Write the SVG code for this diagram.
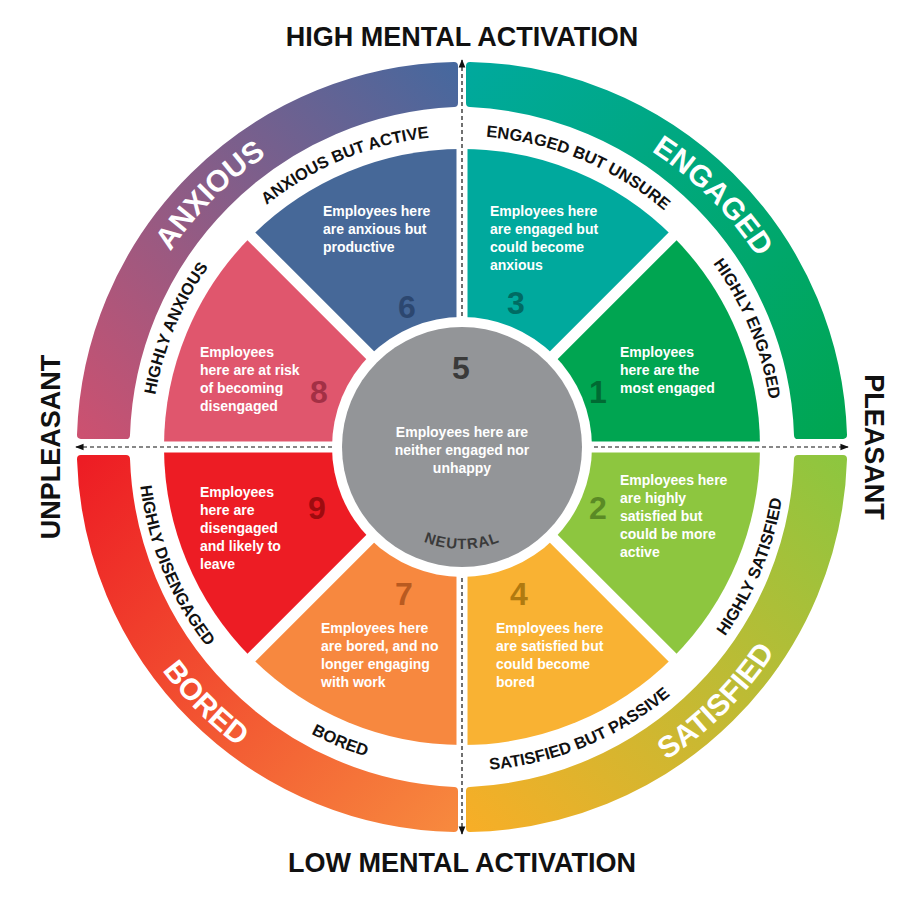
<svg xmlns="http://www.w3.org/2000/svg" width="924" height="902" viewBox="0 0 924 902">
<style>
.ax{font-family:"Liberation Sans",Arial,sans-serif;font-weight:bold;font-size:27px;fill:#111}
.ring{font-family:"Liberation Sans",Arial,sans-serif;font-weight:bold;font-size:30px;fill:#fff}
.lab{font-family:"Liberation Sans",Arial,sans-serif;font-weight:bold;font-size:16.5px;fill:#111}
.txt{font-family:"Liberation Sans",Arial,sans-serif;font-weight:bold;font-size:14px;fill:#fff}
.num{font-family:"Liberation Sans",Arial,sans-serif;font-weight:bold;font-size:32px;text-anchor:middle}
.rs{stroke-width:8;stroke-linejoin:round}
.dash{stroke:#111;stroke-width:1.2;stroke-dasharray:4 3;fill:none}
</style>
<defs>
<linearGradient id="gA" x1="0" y1="1" x2="1" y2="0"><stop offset="0" stop-color="#cc5170"/><stop offset="1" stop-color="#46689e"/></linearGradient>
<linearGradient id="gE" x1="0" y1="0" x2="1" y2="1"><stop offset="0" stop-color="#00a99d"/><stop offset="1" stop-color="#00a651"/></linearGradient>
<linearGradient id="gS" x1="1" y1="0" x2="0" y2="1"><stop offset="0" stop-color="#8dc63f"/><stop offset="1" stop-color="#f7ae27"/></linearGradient>
<linearGradient id="gB" x1="0" y1="0" x2="1" y2="1"><stop offset="0" stop-color="#ed1c24"/><stop offset="1" stop-color="#f7893e"/></linearGradient>
<path id="tR" d="M111,447 A351,351 0 0 1 813,447"/>
<path id="bR" d="M88,447 A374,374 0 0 0 836,447"/>
<path id="tL" d="M151,447 A311,311 0 0 1 773,447"/>
<path id="bL" d="M138,447 A324,324 0 0 0 786,447"/>
<path id="nP" d="M360,447 A102,102 0 0 0 564,447"/>
<marker id="ar" viewBox="0 0 10 10" refX="9" refY="5" markerWidth="7" markerHeight="7" orient="auto-start-reverse"><path d="M0,1 L10,5 L0,9 Z" fill="#111"/></marker>
</defs>
<rect width="924" height="902" fill="#fff"/>
<g id="rings">
<path class="rs" fill="url(#gA)" stroke="url(#gA)" d="M454,66 A381,381 0 0 0 81,435 L126,435 A344,344 0 0 1 454,103 Z"/>
<path class="rs" fill="url(#gE)" stroke="url(#gE)" d="M470,66 A381,381 0 0 1 843,435 L798,435 A344,344 0 0 0 470,103 Z"/>
<path class="rs" fill="url(#gS)" stroke="url(#gS)" d="M843,459 A381,381 0 0 1 470,828 L470,791 A344,344 0 0 0 798,459 Z"/>
<path class="rs" fill="url(#gB)" stroke="url(#gB)" d="M454,828 A381,381 0 0 1 81,459 L126,459 A344,344 0 0 0 454,791 Z"/>
<text class="ring" text-anchor="middle"><textPath href="#tR" startOffset="25%">ANXIOUS</textPath></text>
<text class="ring" text-anchor="middle"><textPath href="#tR" startOffset="75%">ENGAGED</textPath></text>
<text class="ring" text-anchor="middle"><textPath href="#bR" startOffset="25%">BORED</textPath></text>
<text class="ring" text-anchor="middle"><textPath href="#bR" startOffset="75%">SATISFIED</textPath></text>
</g>
<g id="labels">
<text class="lab" text-anchor="middle"><textPath href="#tL" startOffset="12.5%">HIGHLY ANXIOUS</textPath></text>
<text class="lab" text-anchor="middle"><textPath href="#tL" startOffset="37.5%">ANXIOUS BUT ACTIVE</textPath></text>
<text class="lab" text-anchor="middle"><textPath href="#tL" startOffset="62.5%">ENGAGED BUT UNSURE</textPath></text>
<text class="lab" text-anchor="middle"><textPath href="#tL" startOffset="87.5%">HIGHLY ENGAGED</textPath></text>
<text class="lab" text-anchor="middle"><textPath href="#bL" startOffset="12.5%">HIGHLY DISENGAGED</textPath></text>
<text class="lab" text-anchor="middle"><textPath href="#bL" startOffset="37.5%">BORED</textPath></text>
<text class="lab" text-anchor="middle"><textPath href="#bL" startOffset="62.5%">SATISFIED BUT PASSIVE</textPath></text>
<text class="lab" text-anchor="middle"><textPath href="#bL" startOffset="87.5%">HIGHLY SATISFIED</textPath></text>
</g>
<g id="s6"><path d="M462,447 L251.3,236.3 A298,298 0 0 1 462,149 Z" fill="#466898"/></g>
<g id="s3"><path d="M462,447 L462,149 A298,298 0 0 1 672.7,236.3 Z" fill="#00a99d"/></g>
<g id="s1"><path d="M462,447 L672.7,236.3 A298,298 0 0 1 760,447 Z" fill="#00a551"/></g>
<g id="s2"><path d="M462,447 L760,447 A298,298 0 0 1 672.7,657.7 Z" fill="#8dc63f"/></g>
<g id="s4"><path d="M462,447 L672.7,657.7 A298,298 0 0 1 462,745 Z" fill="#f9b233"/></g>
<g id="s7"><path d="M462,447 L462,745 A298,298 0 0 1 251.3,657.7 Z" fill="#f7883f"/></g>
<g id="s9"><path d="M462,447 L251.3,657.7 A298,298 0 0 1 164,447 Z" fill="#ed1c24"/></g>
<g id="s8"><path d="M462,447 L164,447 A298,298 0 0 1 251.3,236.3 Z" fill="#e0566d"/></g>
<g id="dividers" stroke="#fff" stroke-width="11">
<line x1="462" y1="447" x2="462" y2="140"/><line x1="462" y1="447" x2="462" y2="754"/>
<line x1="462" y1="447" x2="155" y2="447"/><line x1="462" y1="447" x2="769" y2="447"/>
<line x1="462" y1="447" x2="245" y2="230"/><line x1="462" y1="447" x2="679" y2="230"/>
<line x1="462" y1="447" x2="245" y2="664"/><line x1="462" y1="447" x2="679" y2="664"/>
</g>
<g id="connectors">
<line class="dash" x1="462" y1="60" x2="462" y2="834" marker-start="url(#ar)" marker-end="url(#ar)"/>
<line class="dash" x1="76" y1="447" x2="848" y2="447" marker-start="url(#ar)" marker-end="url(#ar)"/>
</g>
<g id="center">
<circle cx="462" cy="447" r="130" fill="#fff"/>
<circle cx="462" cy="447" r="120" fill="#939598"/>
<text class="num" x="461" y="379" fill="#3a3a3a">5</text>
<text class="txt" text-anchor="middle"><tspan x="462" y="437">Employees here are</tspan><tspan x="462" y="455">neither engaged nor</tspan><tspan x="462" y="473">unhappy</tspan></text>
<text class="lab" text-anchor="middle" style="fill:#3a3a3a;letter-spacing:1px;font-size:15px"><textPath href="#nP" startOffset="50%">NEUTRAL</textPath></text>
</g>
<g id="texts">
<text class="num" x="407" y="318" fill="#2c4770">6</text>
<text class="num" x="516" y="314" fill="#006b63">3</text>
<text class="num" x="598" y="403" fill="#006a33">1</text>
<text class="num" x="598" y="519" fill="#5a8a25">2</text>
<text class="num" x="519" y="605" fill="#b07a10">4</text>
<text class="num" x="404" y="605" fill="#b85a20">7</text>
<text class="num" x="317" y="519" fill="#9e0b0f">9</text>
<text class="num" x="319" y="403" fill="#a33045">8</text>
<text class="txt"><tspan x="323" y="216">Employees here</tspan><tspan x="323" y="234">are anxious but</tspan><tspan x="323" y="252">productive</tspan></text>
<text class="txt"><tspan x="490" y="216">Employees here</tspan><tspan x="490" y="234">are engaged but</tspan><tspan x="490" y="252">could become</tspan><tspan x="490" y="270">anxious</tspan></text>
<text class="txt"><tspan x="620" y="357">Employees</tspan><tspan x="620" y="375">here are the</tspan><tspan x="620" y="393">most engaged</tspan></text>
<text class="txt"><tspan x="620" y="485">Employees here</tspan><tspan x="620" y="503">are highly</tspan><tspan x="620" y="521">satisfied but</tspan><tspan x="620" y="539">could be more</tspan><tspan x="620" y="557">active</tspan></text>
<text class="txt"><tspan x="496" y="633">Employees here</tspan><tspan x="496" y="651">are satisfied but</tspan><tspan x="496" y="669">could become</tspan><tspan x="496" y="687">bored</tspan></text>
<text class="txt"><tspan x="321" y="633">Employees here</tspan><tspan x="321" y="651">are bored, and no</tspan><tspan x="321" y="669">longer engaging</tspan><tspan x="321" y="687">with work</tspan></text>
<text class="txt"><tspan x="200" y="497">Employees</tspan><tspan x="200" y="515">here are</tspan><tspan x="200" y="533">disengaged</tspan><tspan x="200" y="551">and likely to</tspan><tspan x="200" y="569">leave</tspan></text>
<text class="txt"><tspan x="200" y="357">Employees</tspan><tspan x="200" y="375">here are at risk</tspan><tspan x="200" y="393">of becoming</tspan><tspan x="200" y="411">disengaged</tspan></text>
</g>
<g id="axes">
<text class="ax" x="462" y="46" text-anchor="middle">HIGH MENTAL ACTIVATION</text>
<text class="ax" x="462" y="872" text-anchor="middle">LOW MENTAL ACTIVATION</text>
<text class="ax" text-anchor="middle" transform="translate(60,447) rotate(-90)">UNPLEASANT</text>
<text class="ax" text-anchor="middle" transform="translate(865,447) rotate(90)">PLEASANT</text>
</g>
</svg>
